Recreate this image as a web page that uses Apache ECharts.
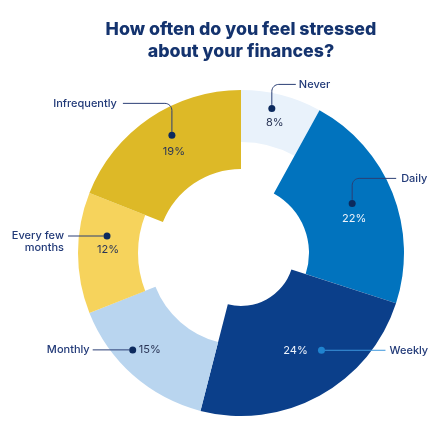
<!DOCTYPE html>
<html>
<head>
<meta charset="utf-8">
<script src="https://cdn.jsdelivr.net/npm/echarts@6/dist/echarts.min.js"></script>
<style>
html,body{margin:0;padding:0;background:#ffffff;}
#c{width:437px;height:433px;}
</style>
</head>
<body>
<div id="c"></div>
<script>
// ---- data ----
const categories = ['Never', 'Daily', 'Weekly', 'Monthly', 'Every few months', 'Infrequently'];
const values = [8, 22, 24, 15, 12, 19];
const nameLabels = ['Never', 'Daily', 'Weekly', 'Monthly', 'Every few\nmonths', 'Infrequently'];
const titleText = 'How often do you feel stressed\nabout your finances?';

// ---- styling ----
const colors = ['#e9f2fb', '#0173be', '#0b3f8a', '#b9d5ef', '#f6d35c', '#ddb927'];
const innerRadii = [111, 68, 53, 92, 103, 84];
const outerRadius = 163;
const cx = 241, cy = 253;
const darkText = '#2a3556';
const pctColors = [darkText, '#eef3fb', '#eef3fb', darkText, darkText, darkText];
const nameColor = '#223a78';
const dotColors = ['#0c2a5e', '#0c2a5e', '#1f83cf', '#0c2a5e', '#0c2a5e', '#0c2a5e'];
const leaderColors = ['#2b3f75', '#2b3f75', '#3d96dc', '#2b3f75', '#2b3f75', '#2b3f75'];
// nudge of percent labels from the library's default inside position
const pctNudges = [[-1, 5], [3, 9], [1, 0], [-5, -1], [3, -3], [4, 3]];
// dot offset relative to percent label centre
const dotOffsets = [[-3, -14], [-2, -15], [26, 0], [-17, 0], [-1, -14], [-2, -16]];
// leader: vertical rise, signed horizontal run, gap to text
const leaders = [
  {up: 24, h: 24, gap: 3},
  {up: 25, h: 44, gap: 5},
  {up: 0, h: 64, gap: 4},
  {up: 0, h: -40, gap: 3},
  {up: 0, h: -39, gap: 4},
  {up: 32, h: -49, gap: 6}
];
const cornerR = 7;
const dotR = 3.5;
const fontFamily = 'Inter, "Noto Sans", sans-serif';

const total = values.reduce((a, b) => a + b, 0);
const pctPos = [];

function insidePoint(i) {
  let acc = 0;
  for (let j = 0; j < i; j++) acc += values[j];
  const mid = (acc + values[i] / 2) / total * Math.PI * 2;
  const rm = (innerRadii[i] + outerRadius) / 2 + 3;
  return [cx + rm * Math.sin(mid) + pctNudges[i][0], cy - rm * Math.cos(mid) + pctNudges[i][1]];
}
function pctPoint(i) { return pctPos[i] || insidePoint(i); }
function dotPos(i) {
  const p = pctPoint(i);
  return [p[0] + dotOffsets[i][0], p[1] + dotOffsets[i][1]];
}
function leaderEnd(i) {
  const d = dotPos(i), L = leaders[i];
  return [d[0] + L.h, d[1] - L.up];
}
function leaderPoints(i) {
  const d = dotPos(i), L = leaders[i];
  const sgn = L.h >= 0 ? 1 : -1;
  const e = leaderEnd(i);
  const pts = [];
  if (L.up > 0) {
    pts.push([d[0], d[1] - dotR]);
    pts.push([d[0], e[1] + cornerR]);
    for (let k = 1; k <= 8; k++) {
      const a = k / 8 * Math.PI / 2;
      pts.push([d[0] + sgn * cornerR * (1 - Math.cos(a)), e[1] + cornerR * (1 - Math.sin(a))]);
    }
  } else {
    pts.push([d[0] + sgn * dotR, d[1]]);
  }
  pts.push(e);
  return pts;
}

const series = [];
categories.forEach(function (cat, i) {
  series.push({
    type: 'pie',
    name: cat,
    center: [cx, cy],
    radius: [innerRadii[i], outerRadius],
    startAngle: 90,
    clockwise: true,
    silent: true,
    animation: false,
    avoidLabelOverlap: false,
    itemStyle: {borderWidth: 0},
    label: {show: false},
    labelLine: {show: false},
    labelLayout: function (p) {
      if (p.dataIndex !== i) return {};
      const r = p.labelRect;
      const c = [r.x + r.width / 2 + pctNudges[i][0], r.y + r.height / 2 + pctNudges[i][1]];
      pctPos[i] = c;
      return {x: c[0], y: c[1], align: 'center', verticalAlign: 'middle'};
    },
    data: categories.map(function (c, j) {
      return {
        name: c,
        value: values[j],
        itemStyle: {color: j === i ? colors[i] : 'rgba(0,0,0,0)', borderWidth: 0},
        label: j === i ? {
          show: true, position: 'inside', formatter: '{c}%',
          color: pctColors[i], fontSize: 11, fontFamily: fontFamily, fontWeight: 400
        } : {show: false}
      };
    })
  });
});

// category names
series.push({
  type: 'pie',
  name: 'names',
  center: [cx, cy],
  radius: [0, outerRadius],
  startAngle: 90,
  clockwise: true,
  silent: true,
  animation: false,
  avoidLabelOverlap: false,
  itemStyle: {color: 'rgba(0,0,0,0)', borderWidth: 0},
  label: {
    show: true, position: 'inside',
    formatter: function (p) { return nameLabels[p.dataIndex]; },
    color: nameColor, fontSize: 11, fontWeight: 500, lineHeight: 12, fontFamily: fontFamily, overflow: 'none'
  },
  labelLine: {show: false},
  labelLayout: function (p) {
    const i = p.dataIndex;
    const L = leaders[i];
    const sgn = L.h >= 0 ? 1 : -1;
    const e = leaderEnd(i);
    const nLines = nameLabels[i].split('\n').length;
    return {
      x: e[0] + sgn * L.gap,
      y: e[1] + (nLines - 1) * 6,
      align: sgn > 0 ? 'left' : 'right',
      verticalAlign: 'middle'
    };
  },
  data: categories.map(function (c, j) { return {name: c, value: values[j]}; })
});

// dots
series.push({
  type: 'pie',
  name: 'dots',
  center: [cx, cy],
  radius: [0, outerRadius],
  startAngle: 90,
  clockwise: true,
  silent: true,
  animation: false,
  avoidLabelOverlap: false,
  z: 5,
  itemStyle: {color: 'rgba(0,0,0,0)', borderWidth: 0},
  label: {show: true, position: 'inside', formatter: '{d| }'},
  labelLine: {show: false},
  labelLayout: function (p) {
    const d = dotPos(p.dataIndex);
    return {x: d[0], y: d[1], align: 'center', verticalAlign: 'middle'};
  },
  data: categories.map(function (c, j) {
    return {
      name: c, value: values[j],
      label: {rich: {d: {width: 7, height: 7, borderRadius: 3.5, backgroundColor: dotColors[j], fontSize: 1, lineHeight: 7}}}
    };
  })
});

const chart = echarts.init(document.getElementById('c'));
chart.setOption({
  backgroundColor: '#ffffff',
  animation: false,
  title: {
    text: titleText,
    left: 241,
    top: 19,
    padding: 0,
    textAlign: 'center',
    textStyle: {fontSize: 17.8, fontWeight: 800, color: '#14336e', lineHeight: 22, fontFamily: fontFamily}
  },
  series: series
});

// leader lines, built from the rendered label positions
chart.setOption({
  graphic: {
    elements: categories.map(function (c, i) {
      return {
        type: 'polyline',
        silent: true,
        z: 4,
        shape: {points: leaderPoints(i)},
        style: {stroke: leaderColors[i], lineWidth: 1, fill: null}
      };
    })
  }
});
</script>
</body>
</html>
